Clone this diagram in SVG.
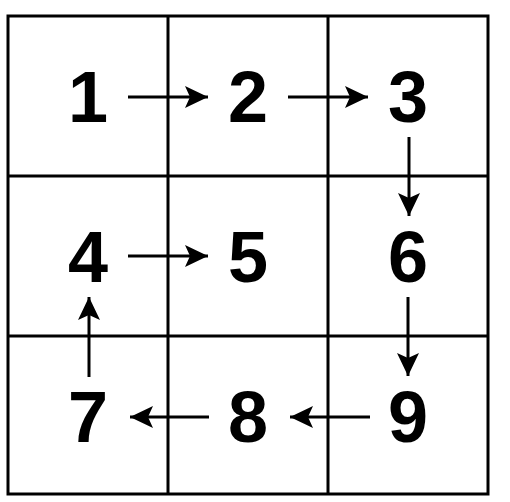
<svg xmlns="http://www.w3.org/2000/svg" width="510" height="502" viewBox="0 0 510 502">
<style>
.grid{fill:none;stroke:#000;stroke-width:3}
.num{font-family:"Liberation Sans",Arial,sans-serif;font-weight:bold;font-size:72px;fill:#000;text-anchor:middle}
.conn{stroke:#000;stroke-width:3;fill:none;marker-end:url(#ah)}
</style>
<defs>
<marker id="ah" markerUnits="userSpaceOnUse" markerWidth="26" markerHeight="26" refX="23" refY="11" orient="auto" viewBox="0 0 26 22">
<path d="M0,0 L23,11 L0,22 L5,11 Z" fill="#000"/>
</marker>
</defs>
<rect width="510" height="502" fill="#fff"/>
<g id="grid">
<rect class="grid" x="8" y="16" width="480" height="478"/>
<line class="grid" x1="168" y1="16" x2="168" y2="494"/>
<line class="grid" x1="328" y1="16" x2="328" y2="494"/>
<line class="grid" x1="8" y1="176" x2="488" y2="176"/>
<line class="grid" x1="8" y1="336" x2="488" y2="336"/>
</g>
<g id="connectors">
<line class="conn" x1="128" y1="97" x2="208" y2="97"/>
<line class="conn" x1="288" y1="97" x2="368" y2="97"/>
<line class="conn" x1="409" y1="137" x2="409" y2="216"/>
<line class="conn" x1="408" y1="297" x2="408" y2="376"/>
<line class="conn" x1="128" y1="256" x2="208" y2="256"/>
<line class="conn" x1="89" y1="377" x2="89" y2="297"/>
<line class="conn" x1="209" y1="417" x2="130" y2="417"/>
<line class="conn" x1="370" y1="417" x2="290" y2="417"/>
</g>
<g id="n1"><text class="num" x="88" y="122">1</text></g>
<g id="n2"><text class="num" x="248" y="122">2</text></g>
<g id="n3"><text class="num" x="408" y="122">3</text></g>
<g id="n4"><text class="num" x="88" y="282">4</text></g>
<g id="n5"><text class="num" x="248" y="282">5</text></g>
<g id="n6"><text class="num" x="408" y="282">6</text></g>
<g id="n7"><text class="num" x="88" y="442">7</text></g>
<g id="n8"><text class="num" x="248" y="442">8</text></g>
<g id="n9"><text class="num" x="408" y="442">9</text></g>
</svg>
